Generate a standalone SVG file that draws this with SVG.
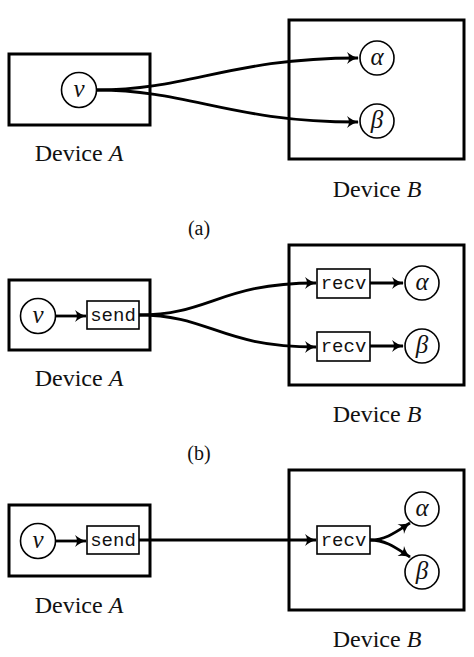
<svg xmlns="http://www.w3.org/2000/svg" width="474" height="657" viewBox="0 0 474 657">
<style>
.dev{fill:none;stroke:#000;stroke-width:3}
.node{fill:#fff;stroke:#000;stroke-width:1.6}
.box{fill:#fff;stroke:#000;stroke-width:1.6}
.lbl{font-family:'Liberation Serif','DejaVu Serif','Times New Roman',serif;font-size:24px;fill:#111;text-anchor:middle}
.cap{font-family:'Liberation Serif','DejaVu Serif',serif;font-size:20px;fill:#111;text-anchor:middle}
.greek{font-family:'Liberation Serif','DejaVu Serif',serif;font-style:italic;font-size:25px;fill:#111;text-anchor:middle}
.mono{font-family:'Liberation Mono','Courier New','DejaVu Sans Mono',monospace;font-size:19px;fill:#111;text-anchor:middle}
.edge{fill:none;stroke:#000;stroke-width:2.8;marker-end:url(#arr)}
</style>
<defs>
<marker id="arr" markerUnits="userSpaceOnUse" viewBox="-12 -7 14 14" refX="0" refY="0" markerWidth="14" markerHeight="14" orient="auto">
<path d="M-11,-6 Q-5,-1 1,0 Q-5,1 -11,6 Q-7,0 -11,-6 Z" fill="#000"/>
</marker>
</defs>
<rect width="474" height="657" fill="#fff"/>

<!-- (a) -->
<g id="a-devA">
<rect class="dev" x="9" y="54" width="141" height="71"/>
<text class="lbl" x="79" y="161">Device <tspan font-style="italic">A</tspan></text>
</g>
<g id="a-nu"><circle class="node" cx="79" cy="90" r="17.5"/><text class="greek" x="79" y="97">ν</text></g>
<g id="a-devB">
<rect class="dev" x="289" y="20" width="175" height="139"/>
<text class="lbl" x="377" y="197">Device <tspan font-style="italic">B</tspan></text>
</g>
<g id="a-alpha"><circle class="node" cx="377" cy="58" r="17"/><text class="greek" x="377" y="65">α</text></g>
<g id="a-beta"><circle class="node" cx="377" cy="121" r="17"/><text class="greek" x="377" y="128">β</text></g>
<text class="cap" x="199" y="235">(a)</text>

<!-- (b) -->
<g id="b-devA">
<rect class="dev" x="9" y="280" width="141" height="70"/>
<text class="lbl" x="79" y="386">Device <tspan font-style="italic">A</tspan></text>
</g>
<g id="b-nu"><circle class="node" cx="38" cy="316" r="17.5"/><text class="greek" x="38" y="323">ν</text></g>
<g id="b-send"><rect class="box" x="87" y="301" width="52" height="28"/><text class="mono" x="113" y="321">send</text></g>
<g id="b-devB">
<rect class="dev" x="289" y="245" width="175" height="140"/>
<text class="lbl" x="377" y="422">Device <tspan font-style="italic">B</tspan></text>
</g>
<g id="b-recv1"><rect class="box" x="317" y="269" width="53" height="29"/><text class="mono" x="343.5" y="289">recv</text></g>
<g id="b-recv2"><rect class="box" x="317" y="332" width="53" height="29"/><text class="mono" x="343.5" y="352">recv</text></g>
<g id="b-alpha"><circle class="node" cx="422" cy="283" r="17"/><text class="greek" x="422" y="290">α</text></g>
<g id="b-beta"><circle class="node" cx="422" cy="346" r="17"/><text class="greek" x="422" y="353">β</text></g>
<text class="cap" x="199" y="460">(b)</text>

<!-- (c) -->
<g id="c-devA">
<rect class="dev" x="9" y="505" width="141" height="71"/>
<text class="lbl" x="79" y="613">Device <tspan font-style="italic">A</tspan></text>
</g>
<g id="c-nu"><circle class="node" cx="38" cy="541" r="17.5"/><text class="greek" x="38" y="548">ν</text></g>
<g id="c-send"><rect class="box" x="87" y="526" width="52" height="28"/><text class="mono" x="113" y="546">send</text></g>
<g id="c-devB">
<rect class="dev" x="289" y="470" width="175" height="140"/>
<text class="lbl" x="377" y="647">Device <tspan font-style="italic">B</tspan></text>
</g>
<g id="c-recv"><rect class="box" x="317" y="526" width="53" height="28"/><text class="mono" x="343.5" y="546">recv</text></g>
<g id="c-alpha"><circle class="node" cx="422" cy="509" r="17"/><text class="greek" x="422" y="516">α</text></g>
<g id="c-beta"><circle class="node" cx="422" cy="572" r="17"/><text class="greek" x="422" y="579">β</text></g>

<g id="connectors">
<path class="edge" d="M97,90 C190,90 230,58 358,58"/>
<path class="edge" d="M97,90 C190,90 230,122 358,122"/>
<path class="edge" d="M56,316 L86,316"/>
<path class="edge" d="M139,315 C210,315 220,283 316,283"/>
<path class="edge" d="M139,315 C210,315 220,347 316,347"/>
<path class="edge" d="M370,283 L403,283"/>
<path class="edge" d="M370,346 L403,346"/>
<path class="edge" d="M56,541 L86,541"/>
<path class="edge" d="M139,540 L316,540"/>
<path class="edge" d="M370,540 C386,540 396,532 410,523"/>
<path class="edge" d="M370,540 C386,540 396,548 410,557"/>
</g>
</svg>
